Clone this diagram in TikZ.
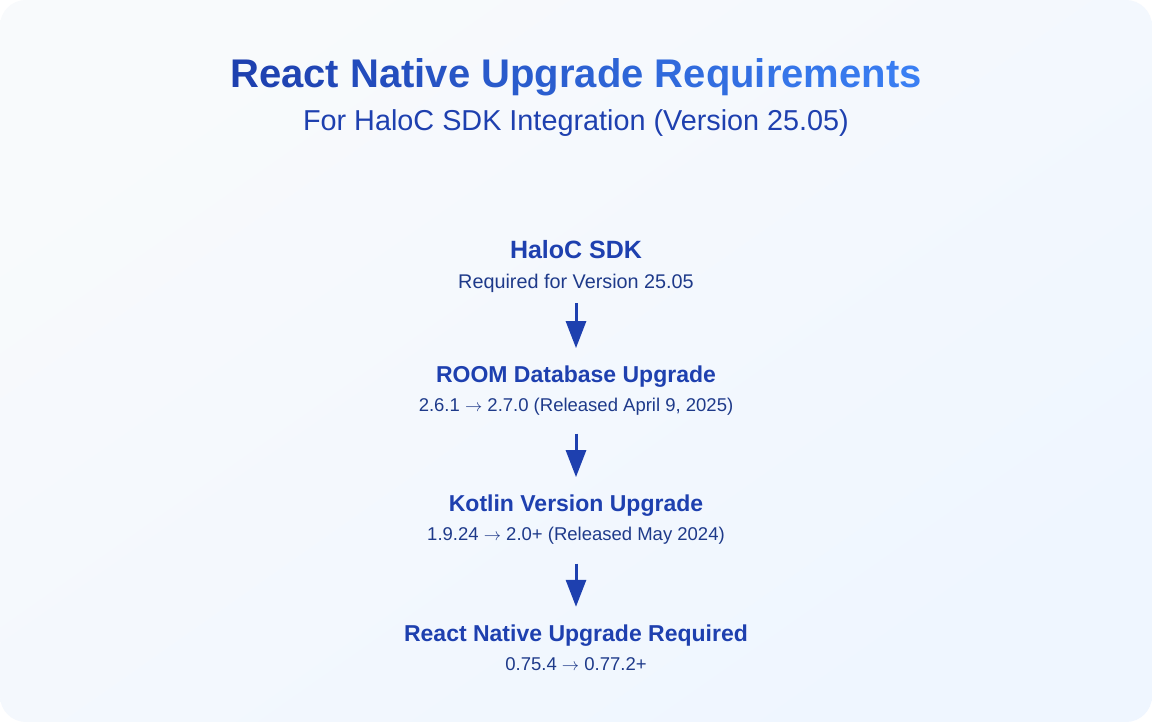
\documentclass[tikz,border=0pt]{standalone}
\usepackage{fontspec}
\setmainfont{Liberation Sans}
\usetikzlibrary{arrows.meta,shadings}
\definecolor{bgA}{HTML}{F8FAFC}
\definecolor{bgB}{HTML}{EFF6FF}
\definecolor{tA}{HTML}{1E40AF}
\definecolor{tB}{HTML}{3B82F6}
\definecolor{hd}{HTML}{1E40AF}
\definecolor{sb}{HTML}{1E3A8A}
\newcommand{\ra}{$\rightarrow$}
\newcount\gcnt
\def\gword#1{\gwordi#1\relax}
\def\gwordi#1{\ifx#1\relax\else\textcolor{tB!\the\gcnt!tA}{#1}\global\advance\gcnt by 3\relax\expandafter\gwordi\fi}
\def\gspace{ \global\advance\gcnt by 3\relax}
\tikzset{
  txt/.style={anchor=base, inner sep=0pt},
  hdr/.style={txt, text height=17pt, text depth=5pt, text=hd, font=\fontsize{23}{27}\selectfont\bfseries},
  sub/.style={txt, text height=14pt, text depth=4.5pt, text=sb, font=\fontsize{18.5}{22}\selectfont},
  arr/.style={draw=hd, line width=3pt, -{Triangle[length=27pt,width=20pt]}}
}
\begin{document}
\begin{tikzpicture}[x=1pt,y=-1pt]
\useasboundingbox (0,0) rectangle (1152,722);
\fill[white] (0,0) rectangle (1152,722);
\shade[rounded corners=26pt, top color=bgA, bottom color=bgB, shading angle=35]
  (0,0) rectangle (1152,722);
% title
\global\gcnt=0
\node[txt, font=\fontsize{40}{44}\selectfont\bfseries] (title) at (576,87.5)
  {\gword{React}\gspace\gword{Native}\gspace\gword{Upgrade}\gspace\gword{Requirements}};
\node[txt, text=hd, font=\fontsize{28.8}{32}\selectfont] (subtitle) at (576,131)
  {For HaloC SDK Integration (Version 25.05)};
% flow
\node[txt, text=hd, font=\fontsize{25}{28}\selectfont\bfseries] (halo) at (576,259) {HaloC SDK};
\node[sub, font=\fontsize{19.8}{23}\selectfont] (halosub) at (576,288.3) {Required for Version 25.05};
\node[hdr] (room) at (576,382.5) {ROOM Database Upgrade};
\node[sub] (roomsub) at (576,411) {2.6.1 \ra{} 2.7.0 (Released April 9, 2025)};
\node[hdr] (kotlin) at (576,511.5) {Kotlin Version Upgrade};
\node[sub] (kotlinsub) at (576,540.5) {1.9.24 \ra{} 2.0+ (Released May 2024)};
\node[hdr] (rn) at (576,641) {React Native Upgrade Required};
\node[sub] (rnsub) at (576,670) {0.75.4 \ra{} 0.77.2+};
% arrows
\draw[arr, shorten <=10.5pt, shorten >=17.2pt] (halosub.south) -- (room.north);
\draw[arr, shorten <=17.8pt, shorten >=17.2pt] (roomsub.south) -- (kotlin.north);
\draw[arr, shorten <=18.3pt, shorten >=17pt] (kotlinsub.south) -- (rn.north);
\end{tikzpicture}
\end{document}
